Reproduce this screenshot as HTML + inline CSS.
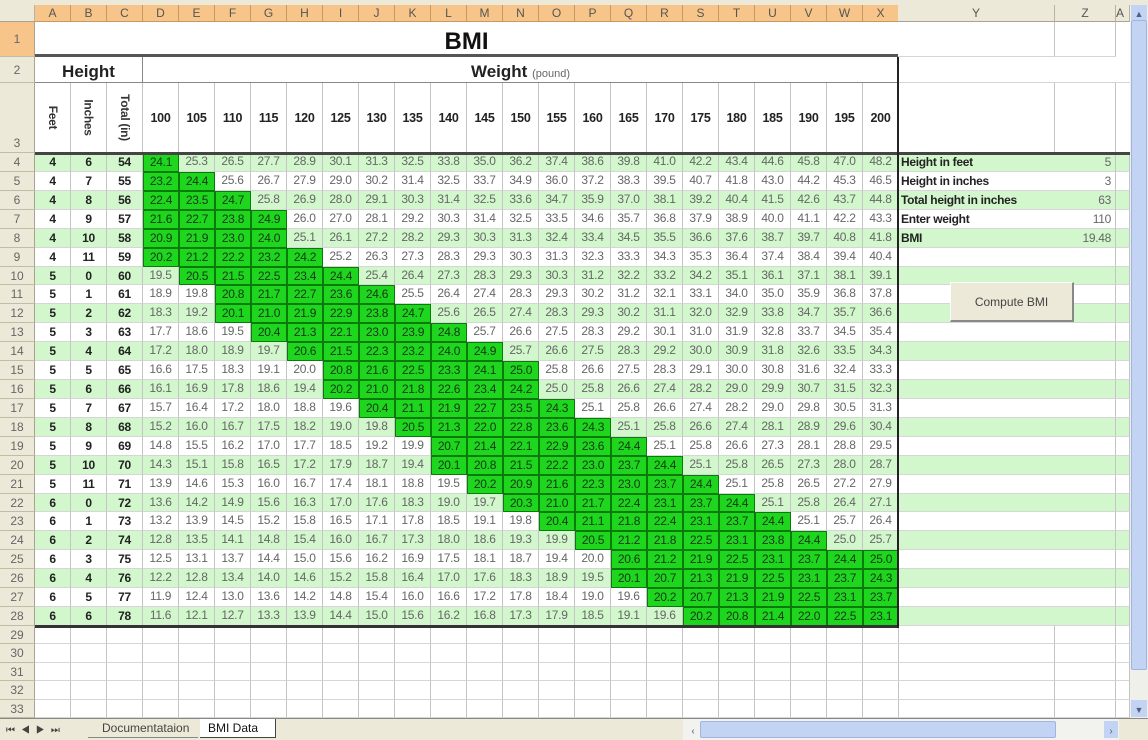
<!DOCTYPE html>
<html><head><meta charset="utf-8">
<style>
body{margin:0;width:1148px;height:740px;overflow:hidden;background:#fff;font-family:"Liberation Sans",sans-serif;position:relative}
.a{position:absolute;box-sizing:border-box}
.ch{background:#ece9d8;border-right:1px solid #b8b4a0;border-bottom:1px solid #a8a490;color:#555;font-size:12px;text-align:center;line-height:17px}
.ch.o{background:#f7c58a;border-color:#c89a60}
.rh{background:#ece9d8;border-bottom:1px solid #c0bca8;border-right:1px solid #a8a490;color:#666;font-size:12px;text-align:center}
.c{font-size:12px;color:#666;text-align:center;line-height:19px;border-right:1px solid #c4c4c4;border-bottom:1px solid #d6d6d6;letter-spacing:-0.3px}
.g{background:#1fd61f;color:#123812;border:1px solid #0a7a0a}
.b{font-weight:bold;color:#222}
</style></head><body>
<div id="sheet"></div>
<script>
const weights=[100,105,110,115,120,125,130,135,140,145,150,155,160,165,170,175,180,185,190,195,200];
const feet=[4,4,4,4,4,4,5,5,5,5,5,5,5,5,5,5,5,5,6,6,6,6,6,6,6];
const inches=[6,7,8,9,10,11,0,1,2,3,4,5,6,7,8,9,10,11,0,1,2,3,4,5,6];
const colLetters=["A","B","C","D","E","F","G","H","I","J","K","L","M","N","O","P","Q","R","S","T","U","V","W","X"];
const infoLabels=["Height in feet","Height in inches","Total height in inches","Enter weight","BMI"];
const infoValues=["5","3","63","110","19.48"];

const S=document.getElementById('sheet');
function box(x,y,w,h,cls,txt,name,inter){
  const d=document.createElement('div');
  d.className='a '+(cls||'');
  d.style.left=x+'px';d.style.top=y+'px';d.style.width=w+'px';d.style.height=h+'px';
  if(txt!==undefined)d.innerHTML=txt;
  
  
  S.appendChild(d);return d;
}
const X0=35,CW=36,HY=5,HH=17;
function cx(i){return X0+i*CW;}
const rowTop=[22,57,83];
for(let i=0;i<25;i++)rowTop.push(153+i*18.92);
for(let i=0;i<5;i++)rowTop.push(626+i*18.4);
rowTop.push(718);
box(0,0,1148,HY,'','', 'toolbar-edge',false).style.background='#ece9d8';
box(0,HY,X0,HH,'ch','','corner-header',true);
colLetters.forEach((l,i)=>{box(cx(i),HY,CW,HH,'ch o',l,'column-header-'+l.toLowerCase(),true);});
box(898,HY,157,HH,'ch','Y','column-header-y',true);
box(1055,HY,61,HH,'ch','Z','column-header-z',true);
box(1116,HY,14,HH,'ch','A','column-header-aa',true).style.textAlign='left';
for(let r=0;r<33;r++){
  const y=rowTop[r],h=rowTop[r+1]-y;
  const d=box(0,y,X0,h,'rh'+(r==0?' o':''),String(r+1),'row-header-'+(r+1),true);
  d.style.lineHeight=(r==2?h*2-20:h)+'px';
  if(r==0){d.style.background='#f7c58a';}
}
for(let r=28;r<33;r++){
  const y=rowTop[r],h=rowTop[r+1]-y;
  colLetters.forEach((l,i)=>box(cx(i),y,CW,h,'c','', 'empty-cell',true));
  box(898,y,157,h,'c','','empty-cell',true);box(1055,y,61,h,'c','','empty-cell',true);box(1116,y,14,h,'c','','empty-cell',true);
}
box(X0,22,863,35,'','<b>BMI</b>','title-bmi',false).style.cssText+='font-size:24px;text-align:center;line-height:40px;border-bottom:3px solid #555;color:#111';
box(898,22,157,35,'c','','empty-cell',true);box(1055,22,61,35,'c','','empty-cell',true);
box(898,57,250-18,26,'c','','empty-cell',true).style.borderRight='none';
box(898,83,157,70,'c','','empty-cell',true);box(1055,83,61,70,'c','','empty-cell',true);
box(X0,57,108,26,'','<b>Height</b>','height-header',false).style.cssText+='font-size:17px;text-align:center;line-height:30px;color:#222;border-right:1px solid #888;border-bottom:1px solid #888';
box(143,57,755,26,'','<b>Weight</b> <span style="font-size:11px;color:#666">(pound)</span>','weight-header',false).style.cssText+='font-size:17px;text-align:center;line-height:30px;color:#222;border-bottom:1px solid #888';
['Feet','Inches','Total (in)'].forEach((t,i)=>{
  const d=box(cx(i),83,CW,70,'c','<div style="transform:rotate(90deg);white-space:nowrap;font-weight:bold;color:#333;font-size:12px">'+t+'</div>','header-'+t.toLowerCase().replace(/\W+/g,'-'),false);
  d.style.display='flex';d.style.alignItems='center';d.style.justifyContent='center';
});
weights.forEach((w,i)=>{
  const d=box(cx(i+3),83,CW,70,'c b',String(w),'weight-'+w,false);
  d.style.lineHeight='70px';d.style.fontSize='12.5px';
});
for(let r=0;r<25;r++){
  const y=rowTop[r+3],h=rowTop[r+4]-y;
  const stripe=(r%2==0);
  const bg=stripe?'#d2f7cc':'#fff';
  const tot=feet[r]*12+inches[r];
  const left=[feet[r],inches[r],tot];
  left.forEach((v,i)=>{const d=box(cx(i),y,CW,h,'c b',String(v),'height-cell',false);d.style.background=bg;d.style.lineHeight=h+'px';});
  weights.forEach((w,i)=>{
    const bmi=703*w/(tot*tot);
    const green=bmi>=20&&bmi<25;
    const d=box(cx(i+3),y,CW,h,'c'+(green?' g':''),bmi.toFixed(1),'bmi-cell',false);
    if(!green)d.style.background=bg;
    d.style.lineHeight=(h-1)+'px';
  });
  const ly=box(898,y,157,h,'c','','info-label',false);ly.style.background=bg;ly.style.borderRight='none';
  const lz=box(1055,y,61,h,'c','','info-value',true);lz.style.background=bg;
  const la=box(1116,y,14,h,'c','','empty-cell',true);la.style.background=bg;
  if(r<5){
    ly.innerHTML=infoLabels[r];ly.style.cssText+='font-weight:bold;color:#222;text-align:left;padding-left:3px;font-size:12px';
    lz.innerHTML=infoValues[r];lz.style.cssText+='text-align:right;padding-right:4px';
  }
  ly.style.lineHeight=h+'px';lz.style.lineHeight=h+'px';
}
box(X0,152,1095,3,'','', 'header-border',false).style.background='#444';
box(X0,625,863,3,'','', 'table-bottom-border',false).style.background='#333';
box(897,57,2,571,'','', 'table-right-border',false).style.background='#222';
const btn=box(950,282,124,40,'','Compute BMI','compute-bmi-button',true);
btn.style.cssText+='background:#ece9d8;border:1px solid #fff;border-right:2px solid #888;border-bottom:2px solid #888;font-size:12px;color:#444;text-align:center;line-height:38px';
const vs=box(1130,5,18,713,'','', 'vertical-scrollbar',true);vs.style.background='#f0f0ea';
const th=box(1131,20,16,650,'','', 'vertical-scroll-thumb',true);th.style.cssText+='background:#c3d3f3;border:1px solid #9fb4e0;border-radius:2px';
box(1131,5,16,15,'','<span style="font-size:9px;color:#4d6185">▲</span>','scroll-up-button',true).style.cssText+='background:#c3d3f3;text-align:center;line-height:15px';
box(1131,700,16,17,'','<span style="font-size:9px;color:#4d6185">▼</span>','scroll-down-button',true).style.cssText+='background:#c3d3f3;text-align:center;line-height:17px';
const tb=box(0,718,1148,22,'','', 'sheet-tab-bar',false);tb.style.cssText+='background:#ece9d8;border-top:1px solid #888';
box(6,721,80,16,'','<span style="font-size:10px;color:#444;letter-spacing:6px">⏮◀▶⏭</span>','tab-navigation',true).style.lineHeight='16px';
box(88,719,110,19,'','Documentataion','tab-documentation',true).style.cssText+='font-size:12px;color:#444;line-height:18px;padding-left:14px;border-bottom:1px solid #888';
box(200,719,76,19,'','<b style="font-weight:normal">BMI Data</b>','tab-bmi-data',true).style.cssText+='font-size:12px;color:#111;background:#fff;line-height:18px;padding-left:8px;border-bottom:1px solid #444;border-right:1px solid #444';
const hs=box(683,719,436,21,'','', 'horizontal-scrollbar',true);hs.style.cssText+='background:#f2f2ee';
box(700,721,356,17,'','', 'horizontal-scroll-thumb',true).style.cssText+='background:#c3d3f3;border:1px solid #9fb4e0;border-radius:2px';
box(686,721,14,17,'','<span style="font-size:10px;color:#4d6185">‹</span>','scroll-left-button',true).style.cssText+='text-align:center;line-height:17px';
box(1104,721,14,17,'','<span style="font-size:10px;color:#4d6185">›</span>','scroll-right-button',true).style.cssText+='text-align:center;line-height:17px;background:#c3d3f3';
</script>
</body></html>
